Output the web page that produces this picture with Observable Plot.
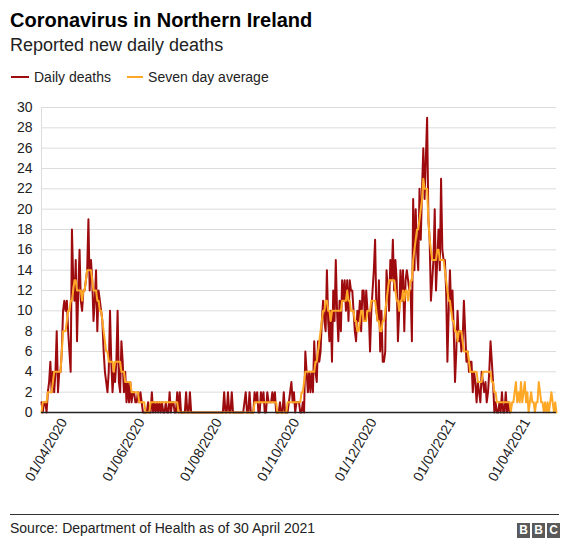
<!DOCTYPE html>
<html>
<head>
<meta charset="utf-8">
<script src="https://cdn.jsdelivr.net/npm/d3@7"></script>
<script src="https://cdn.jsdelivr.net/npm/@observablehq/plot@0.6"></script>
<style>
  body { margin: 0; background: #fff; font-family: "Liberation Sans", Arial, Helvetica, sans-serif; color: #222; }
  #wrap { position: relative; width: 569px; height: 549px; overflow: hidden; }
  #title { position: absolute; left: 10px; top: 10px; font-size: 20px; line-height: 20px; font-weight: bold; color: #000; white-space: nowrap; }
  #sub { position: absolute; left: 10px; top: 36px; font-size: 18px; line-height: 18px; color: #222; white-space: nowrap; }
  #legend { position: absolute; left: 11px; top: 68px; height: 18px; font-size: 14px; line-height: 18px; display: flex; align-items: center; white-space: nowrap; }
  .sw { display: inline-block; width: 18px; height: 2.5px; margin-right: 5px; }
  .item { display: flex; align-items: center; margin-right: 16px; }
  #chart { position: absolute; left: 0; top: 92px; }
  #rule { position: absolute; left: 10px; top: 514px; width: 549px; height: 1px; background: #333; }
  #source { position: absolute; left: 10px; top: 520px; font-size: 14px; line-height: 16px; color: #222; white-space: nowrap; }
  #logo { position: absolute; left: 517px; top: 523px; display: flex; gap: 2px; }
  #logo span { display: inline-block; width: 13px; height: 15px; background: #5a5a5a; color: #fff; font-weight: bold; font-size: 12px; line-height: 15px; text-align: center; }
</style>
</head>
<body>
<div id="wrap">
  <div id="title">Coronavirus in Northern Ireland</div>
  <div id="sub">Reported new daily deaths</div>
  <div id="legend">
    <div class="item"><span class="sw" style="background:#a00d10"></span>Daily deaths</div>
    <div class="item"><span class="sw" style="background:#ffa826;width:16px"></span>Seven day average</div>
  </div>
  <div id="chart"></div>
  <div id="rule"></div>
  <div id="source">Source: Department of Health as of 30 April 2021</div>
  <div id="logo"><span>B</span><span>B</span><span>C</span></div>
</div>
<script>
const startDate = "2020-03-16";

const dailyDeaths = [
  1,0,1,1,0,2,3,5,2,4, 2,4,8,2,4,4,6,10,11,10, 11,8,6,4,18,13,11,15,7,12, 16,11,10,12,12,13,14,19,12,15,
  13,9,11,14,8,12,11,10,9,6, 4,3,2,4,10,5,2,4,3,5, 10,3,
  2,7,5,2,4,1,3,1,3,1, 2,2,1,1,2,1,2,1,0,0, 0,0,1,0,0,2,0,1,0,1, 0,1,0,1,0,0,1,0,0,2,
  0,1,1,0,0,2,0,2,0,0, 0,0,2,0,0,2,
  0,0,0,0,0,0,0,0,0,0, 0,0,0,0,0,0,0,0,0,0, 0,0,0,0,0,0,
  2,0,0,2,0,0,2,0, 0,0,0,0,0,0,0,0,
  1,2,0,0,2,0,0,0,2,1, 2,0,0,2,1,2,0,0,2,1, 1,1,2,1,2,0,0,0,1,0, 0,2,0,0,0,1,2,3,
  1,2,0,1,1,1,0,0,1,0, 6,4,2,4,2,4,2,7,4,3, 7,5,6,9,11,9,8,14,9,7, 10,5,12,9,15,10,7,11,8,13,
  11,13,10,13,9,13,12,12,10,8, 7,10,9,11,8,12,12,9,12,10, 10,6,10,12,14,17,10,9,13,6, 10,
  5,5,6,14,12,10,15,13,17,12, 15,13,7,10,14,11,14,8,13,14, 13,12,12,7,21,14,20,16,14,22,
  17,22,26,21,25,29,19,17,11,13, 15,20,12,15,18,14,23,16,15,15, 12,5,10,14,10,12,8,3,6,10,
  7,8,6,7,11,8,5,6,4,5, 5,2,4,3,1,3,2,1,4,3, 2,3,1,2,4,7,5,3,0,1, 0,0,1,0,2,0,0,2,0,1, 0
];

const sevenDayAverage = [
  0,1,1,1,1,2,2,2,2,3, 4,4,4,4,4,4,6,8,8,8, 9,10,10,11,11,12,13,13,12,12, 12,12,11,12,12,13,14,14,14,14,
  13,12,12,12,11,11,10,10,9,8, 7,6,6,5,5,5,5,4,5,5, 5,5,
  5,4,4,4,3,3,3,3,3,2, 2,2,2,2,2,1,1,1,1,1, 0,0,0,0,
  1,1,1,1,1,1,1,1,1,1, 1,1,1,1,1,1,1,1,1,1, 1,1,
  0,0,0,0,0,0,0,0,0,0, 0,0,0,0,0,0,0,0,0,0, 0,0,0,0,0,0,0,0,0,0,
  0,0,0,0,0,0,0,0,0,0, 0,0,0,0,0,0,0,0,0,0, 0,0,0,0,0,0,0,0,0,0,
  1,1,1,1,1,1,1,1,1,1, 1,1,1,1,1,1,1,1,
  0,0,0,0,0,0,0,0, 1,1,1,1,
  1,1,1,1,1,1,1,2,2,3, 4,4,4,4,4,4,4,4,5,5, 6,7,8,9,10,10,11,11,10,10, 9,10,10,10,10,10,10,10,10,11,
  11,11,11,12,11,11,10,10,10,9, 9,8,8,9,10,10,9,9,9,10, 10,10,11,11,11,11,10,9,9,8, 8,
  9,9,10,11,12,13,13,13,13,13, 12,11,11,10,11,11,12,11,12,12, 11,12,13,13,15,16,17,18,18,19,
  20,21,23,22,22,22,19,17,16,15, 15,15,15,16,16,15,15,15,15,14, 13,12,11,11,10,9,9,8,8,7,
  8,8,8,7,6,6,6,6,5,4, 4,4,4,4,4,3,3,3,3,4, 4,4,4,4,4,4,3,3,2,2, 1,1,1,1,1,1,1,1,1,1, 1,
  0,1,1,2,3,1,2,1,3,1, 2,3,1,2,0,1,2,1,1,0, 1,1,3,2,1,1,0,1,0,1, 0,1,2,1,0,1,0
];

const tickDates = ["2020-04-01", "2020-06-01", "2020-08-01", "2020-10-01", "2020-12-01", "2021-02-01", "2021-04-01"];
const tickLabels = ["01/04/2020", "01/06/2020", "01/08/2020", "01/10/2020", "01/12/2020", "01/02/2021", "01/04/2021"];
const yTicks = [0, 2, 4, 6, 8, 10, 12, 14, 16, 18, 20, 22, 24, 26, 28, 30];

const t0 = new Date(startDate + "T00:00:00Z");
const dayAt = i => d3.utcDay.offset(t0, i);
const dailyRows = dailyDeaths.map((v, i) => ({date: dayAt(i), value: v}));
const avgRows = sevenDayAverage.map((v, i) => ({date: dayAt(i), value: v}));
const tEnd = dayAt(sevenDayAverage.length - 1);
const tickDateObjs = tickDates.map(s => new Date(s + "T00:00:00Z"));
const fmtKey = d3.utcFormat("%Y-%m-%d");
const labelFor = d => tickLabels[tickDates.indexOf(fmtKey(d))];

const chart = Plot.plot({
  width: 569,
  height: 408,
  marginLeft: 41,
  marginRight: 13,
  marginTop: 15,
  marginBottom: 88,
  style: {fontFamily: "'Liberation Sans', Arial, sans-serif", fontSize: "14px", color: "#222", background: "transparent", overflow: "visible"},
  x: {type: "utc", domain: [t0, tEnd]},
  y: {domain: [0, 30]},
  marks: [
    Plot.gridY(yTicks, {stroke: "#dcdcdc", strokeOpacity: 1, strokeWidth: 1}),
    Plot.ruleX([t0], {y1: 0, y2: 30, stroke: "#dcdcdc", strokeWidth: 1}),
    Plot.axisY(yTicks, {tickSize: 0, tickPadding: 9, label: null, fontSize: 14, fill: "#222"}),
    Plot.axisX(tickDateObjs, {tickSize: 0, tickPadding: 7, tickRotate: -60, textAnchor: "end", tickFormat: labelFor, label: null, fontSize: 14, fill: "#222", dx: 2}),
    Plot.line(dailyRows, {x: "date", y: "value", stroke: "#9e0b0e", strokeWidth: 2}),
    Plot.line(avgRows, {x: "date", y: "value", stroke: "#ffa826", strokeWidth: 2}),
    Plot.ruleY([0], {stroke: "#222", strokeWidth: 1.5})
  ]
});
document.getElementById("chart").appendChild(chart);
</script>
</body>
</html>
